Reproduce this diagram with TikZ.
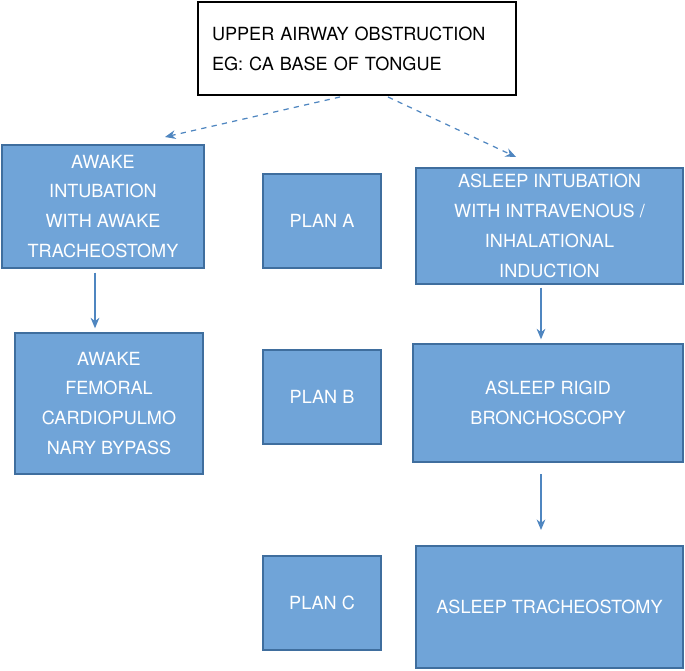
\documentclass[tikz,border=0pt]{standalone}
\usepackage{fontspec}
\setmainfont{TeX Gyre Heros}
\usetikzlibrary{arrows.meta}
\definecolor{boxblue}{HTML}{70A4D8}
\definecolor{edgeblue}{HTML}{3F6E9E}
\definecolor{arrowblue}{HTML}{4F86C0}
\begin{document}
\begin{tikzpicture}[x=0.02cm, y=-0.02cm,
    plan box/.style={rectangle, draw=edgeblue, fill=boxblue, line width=0.8pt, align=center,
        inner sep=0pt, font=\fontsize{10.3}{17}\selectfont, text=white},
    head box/.style={rectangle, draw=black, fill=white, line width=0.8pt, align=left,
        inner sep=0pt, font=\fontsize{10.3}{17}\selectfont},
    link/.style={-{Stealth[length=6pt, width=5pt]}, arrowblue, line width=0.7pt}]

    \useasboundingbox (0,0) rectangle (685,671);

    % Top
    \node[head box, minimum width=318*0.02cm, minimum height=93*0.02cm, text width=290*0.02cm] (obst) at (357,48.5)
        {UPPER AIRWAY OBSTRUCTION\\EG: CA BASE OF TONGUE};

    % Left column
    \node[plan box, minimum width=202*0.02cm, minimum height=123*0.02cm] (awake) at (103,206.5)
        {AWAKE\\INTUBATION\\WITH AWAKE\\TRACHEOSTOMY};
    \node[plan box, minimum width=188*0.02cm, minimum height=141*0.02cm] (femoral) at (109,403.5)
        {AWAKE\\FEMORAL\\CARDIOPULMO\\NARY BYPASS};

    % Plan labels
    \node[plan box, minimum width=118*0.02cm, minimum height=94*0.02cm] (planA) at (322,221) {PLAN A};
    \node[plan box, minimum width=118*0.02cm, minimum height=94*0.02cm] (planB) at (322,397) {PLAN B};
    \node[plan box, minimum width=118*0.02cm, minimum height=94*0.02cm] (planC) at (322,603) {PLAN C};

    % Right column
    \node[plan box, minimum width=267*0.02cm, minimum height=116*0.02cm] (asleep) at (549.5,226)
        {ASLEEP INTUBATION\\WITH INTRAVENOUS /\\INHALATIONAL\\INDUCTION};
    \node[plan box, minimum width=270*0.02cm, minimum height=118*0.02cm] (rigid) at (548,403)
        {ASLEEP RIGID\\BRONCHOSCOPY};
    \node[plan box, minimum width=267*0.02cm, minimum height=122*0.02cm] (trach) at (549.5,607)
        {ASLEEP TRACHEOSTOMY};

    % Arrows
    \coordinate (obstL) at (340,97);
    \coordinate (obstR) at (388,97);
    \coordinate (awakeT) at (165,137);
    \coordinate (asleepT) at (516,157);
    \coordinate (rigidB) at (541,474);
    \coordinate (trachT) at (541,530);
    \draw[link, dashed] (obstL) -- (awakeT);
    \draw[link, dashed] (obstR) -- (asleepT);
    \draw[link] (awake.south -| 95,0) ++(0,4) -- ([yshift=0.08cm]femoral.north -| 95,0);
    \draw[link] ([yshift=-0.06cm]asleep.south -| 541,0) -- ([yshift=0.08cm]rigid.north -| 541,0);
    \draw[link] (rigidB) -- (trachT);

\end{tikzpicture}
\end{document}
